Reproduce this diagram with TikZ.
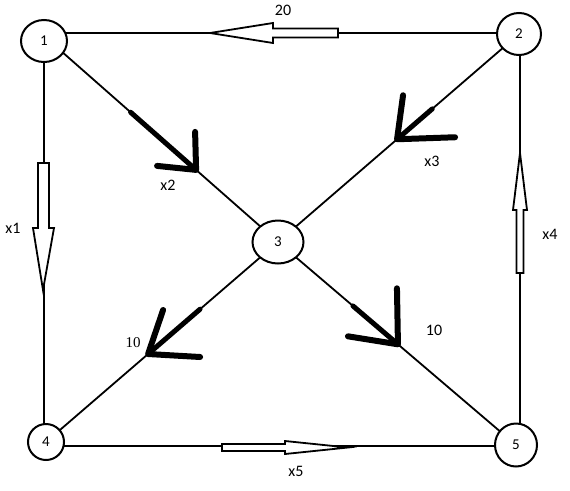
\documentclass[tikz,border=0pt]{standalone}
\usepackage{fontspec}
\setmainfont{Carlito}
\newfontfamily\serifface{Liberation Serif}
\usetikzlibrary{shapes.geometric,calc}
\pgfdeclarelayer{background}
\pgfsetlayers{background,main}
\begin{document}
\begin{tikzpicture}[x=1pt,y=-1pt,
  vtx/.style={draw,ellipse,line width=2pt,fill=white,inner sep=0pt,
              font=\fontsize{15}{17}\selectfont},
  edge/.style={line width=1.8pt},
  hollow/.style={draw,line width=1.8pt,fill=white,line join=miter},
  heavy/.style={line width=5pt,line cap=round},
  barb/.style={line width=6pt,line cap=round,line join=round},
  lbl/.style={font=\fontsize{16}{18}\selectfont,inner sep=0pt}]
\useasboundingbox (0,0) rectangle (570,490);

% vertices
\node[vtx,minimum width=46pt,minimum height=42pt] (n1) at (44,41) {1};
\node[vtx,minimum width=44pt,minimum height=42pt] (n2) at (519,34) {2};
\node[vtx,minimum width=51pt,minimum height=43pt] (n3) at (278,242) {3};
\node[vtx,minimum width=36pt,minimum height=36pt] (n4) at (46,442) {4};
\node[vtx,minimum width=42pt,minimum height=43pt] (n5) at (516,445) {5};

% connectors
\begin{pgfonlayer}{background}
\fill[white] (0,0) rectangle (570,490);
\draw[edge] (n2.center |- 0,33) -- (n1.center |- 0,33);
\draw[edge] (n1.center) -- (n1.center |- n4.center);
\draw[edge] (n4.center |- 0,446) -- (n5.center |- 0,446);
\draw[edge] (n2.center -| 520,0) -- (n5.center -| 520,0);
\draw[edge] ([yshift=5pt]n1.center) -- (n3.center);
\draw[edge] (n2.center) -- (n3.center);
\draw[edge] (n3.center) -- (n4.center);
\draw[edge] (n3.center) -- (n5.center);
\end{pgfonlayer}

% hollow arrows on the square's sides
\draw[hollow] (338,28.5) -- (273,28.5) -- (273,23) -- (210,33) -- (273,43)
  -- (273,37.5) -- (338,37.5) -- cycle;
\draw[hollow] (38,163) -- (38,228) -- (33,228) -- (43,290) -- (54,228)
  -- (49,228) -- (49,163) -- cycle;
\draw[hollow] (516.5,273) -- (516.5,210) -- (513,210) -- (520,153) -- (527,210)
  -- (523.5,210) -- (523.5,273) -- cycle;
\draw[hollow] (222,444) -- (285,444) -- (285,441) -- (348,447.5) -- (285,454)
  -- (285,451) -- (222,451) -- cycle;

% heavy arrows on the diagonals
\coordinate (s13) at ($([yshift=5pt]n1.center)!0.37!(n3.center)$);
\coordinate (t13) at ($([yshift=5pt]n1.center)!0.65!(n3.center)$);
\draw[heavy] (s13) -- (t13);
\draw[barb] ([shift={(-1,-38)}]t13) -- (t13) -- ([shift={(-39,-4)}]t13);

\coordinate (s23) at ($(n2.center)!0.36!(n3.center)$);
\coordinate (t23) at ($(n2.center)!0.506!(n3.center)$);
\draw[heavy] (s23) -- (t23);
\draw[barb] ([shift={(6,-44)}]t23) -- (t23) -- ([shift={(58,-2)}]t23);

\coordinate (s34) at ($(n3.center)!0.336!(n4.center)$);
\coordinate (t34) at ($(n3.center)!0.56!(n4.center)$);
\draw[heavy] (s34) -- (t34);
\draw[barb] ([shift={(15,-44)}]t34) -- (t34) -- ([shift={(52,3)}]t34);

\coordinate (s35) at ($(n3.center)!0.315!(n5.center)$);
\coordinate (t35) at ($(n3.center)!0.504!(n5.center)$);
\draw[heavy] (s35) -- (t35);
\draw[barb] ([shift={(-1,-56)}]t35) -- (t35) -- ([shift={(-50,-8)}]t35);

% labels
\node[lbl] (l20) at (283,10) {20};
\node[lbl] (lx1) at (13,228) {x1};
\node[lbl] (lx2) at (168,185) {x2};
\node[lbl] (lx3) at (432,161) {x3};
\node[lbl] (lx4) at (550,234) {x4};
\node[lbl] (lx5) at (296,471) {x5};
\node[lbl,font=\serifface\fontsize{15}{17}\selectfont] (l10a) at (133,343) {10};
\node[lbl] (l10b) at (434,330) {10};
\end{tikzpicture}
\end{document}
